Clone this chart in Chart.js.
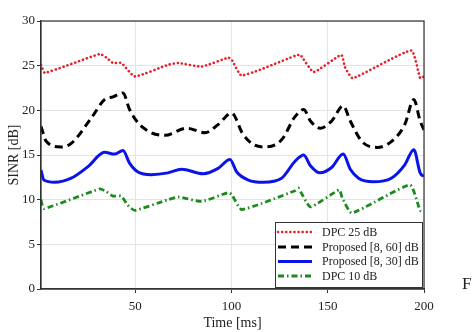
<!DOCTYPE html>
<html>
<head>
<meta charset="utf-8">
<script src="https://cdn.jsdelivr.net/npm/chart.js@4.4.1/dist/chart.umd.min.js"></script>
<style>
  html, body { margin: 0; padding: 0; background: #fff; }
  #wrap { width: 474px; height: 332px; position: relative; }
</style>
</head>
<body>
<div id="wrap"><canvas id="c" width="474" height="332"></canvas></div>
<script>
// --- données ---
const xTicks = [50, 100, 150, 200];
const yTicks = [0, 5, 10, 15, 20, 25, 30];

const labels = ['DPC 25 dB', 'Proposed [8, 60] dB', 'Proposed [8, 30] dB', 'DPC 10 dB'];

// DPC 25 dB
const dpc25T = [1, 3, 31.5, 35, 38.4, 42.7, 49.7, 67, 72.3, 84.5, 98.3, 100, 105.3, 133, 135.7, 142.7, 157, 159, 163, 193.4, 198, 200];
const dpc25V = [25.1, 24.2, 26.3, 25.9, 25.3, 25.3, 23.8, 25.1, 25.3, 24.9, 25.9, 25.7, 23.9, 26.1, 26.2, 24.3, 26.2, 24.8, 23.6, 26.7, 23.6, 23.8];

// Proposed [8, 60] dB
const p60T = [1, 3.8, 11.5, 16.7, 27, 34, 38.4, 43.6, 47, 51.4, 58.3, 65.4, 76.7, 86.2, 93, 100, 106, 112, 117.4, 126, 133, 137.5, 141, 146, 152, 158, 161.7, 167.8, 175.6, 183, 190, 194.7, 198, 200];
const p60V = [18.2, 16.5, 15.9, 16.3, 19.1, 21.2, 21.5, 21.95, 20.1, 18.6, 17.5, 17.2, 18.0, 17.5, 18.4, 19.7, 17.3, 16.1, 15.9, 16.7, 19.3, 20.1, 18.8, 18.0, 18.8, 20.5, 18.8, 16.5, 15.85, 16.5, 18.4, 21.2, 18.8, 17.8];

// Proposed [8, 30] dB
const p30T = [1, 2.5, 8, 16.7, 25.4, 34, 39.3, 43.6, 47, 51.4, 58.3, 67, 74, 85.3, 93, 99.2, 102.7, 108.7, 116.5, 126, 133, 137.5, 141, 146, 152, 158, 161.7, 166, 173.5, 183, 190, 194.7, 198, 200];
const p30V = [13.3, 12.2, 11.95, 12.4, 13.7, 15.3, 15.1, 15.5, 14.1, 13.1, 12.8, 13.0, 13.4, 12.9, 13.5, 14.5, 13.1, 12.2, 11.95, 12.4, 14.3, 15.0, 13.8, 13.0, 13.6, 15.1, 13.4, 12.4, 12.0, 12.4, 13.9, 15.6, 13.0, 12.6];

// DPC 10 dB
const dpc10T = [1, 2.5, 31.5, 35, 38.4, 42.7, 46, 49.7, 67, 72.3, 84.5, 98.3, 100, 105.3, 133, 134.7, 141, 156, 157.5, 162.5, 192.7, 198, 200];
const dpc10V = [10.0, 9.0, 11.2, 10.9, 10.4, 10.4, 9.4, 8.8, 10.0, 10.3, 9.8, 10.8, 10.6, 8.9, 11.0, 11.3, 9.2, 11.1, 10.2, 8.5, 11.65, 8.8, 8.65];

const pts = (t, v) => t.map((x, i) => ({ x, y: v[i] }));

const serif = '"Liberation Serif", "DejaVu Serif", serif';

// Cadre complet + légende maison + lettre coupée à droite
const decorPlugin = {
  id: 'decor',
  afterDraw(chart) {
    const { ctx, chartArea: a } = chart;
    ctx.save();
    ctx.strokeStyle = '#333';
    ctx.lineWidth = 1.2;
    ctx.strokeRect(a.left, a.top, a.right - a.left, a.bottom - a.top);

    // légende
    const bx = 275.5, by = 222.5, bw = 147, bh = 65;
    ctx.fillStyle = '#fff';
    ctx.fillRect(bx, by, bw, bh);
    ctx.strokeStyle = '#333';
    ctx.lineWidth = 1;
    ctx.strokeRect(bx, by, bw, bh);
    const rows = [232, 247, 261.5, 276];
    chart.data.datasets.forEach((ds, i) => {
      const y = rows[i];
      ctx.beginPath();
      ctx.strokeStyle = ds.borderColor;
      ctx.lineWidth = ds.borderWidth;
      ctx.lineCap = ds.borderCapStyle || 'butt';
      ctx.setLineDash(ds.borderDash || []);
      ctx.moveTo(278, y);
      ctx.lineTo(312, y);
      ctx.stroke();
      ctx.setLineDash([]);
      ctx.fillStyle = '#222';
      ctx.font = '12px ' + serif;
      ctx.textBaseline = 'middle';
      ctx.textAlign = 'left';
      ctx.fillText(ds.label, 322, y + 0.5);
    });

    ctx.fillStyle = '#222';
    ctx.font = '17px ' + serif;
    ctx.textBaseline = 'middle';
    ctx.fillText('F', 462, 285);
    ctx.restore();
  }
};

new Chart(document.getElementById('c'), {
  type: 'line',
  data: {
    datasets: [
      {
        label: labels[0],
        data: pts(dpc25T, dpc25V),
        borderColor: '#e8202a',
        borderWidth: 2.6,
        borderDash: [0.1, 4],
        borderCapStyle: 'round',
        tension: 0.15,
        pointRadius: 0
      },
      {
        label: labels[1],
        data: pts(p60T, p60V),
        borderColor: '#000000',
        borderWidth: 3,
        borderDash: [8, 5],
        cubicInterpolationMode: 'monotone',
        pointRadius: 0
      },
      {
        label: labels[2],
        data: pts(p30T, p30V),
        borderColor: '#0a14e6',
        borderWidth: 3,
        cubicInterpolationMode: 'monotone',
        pointRadius: 0
      },
      {
        label: labels[3],
        data: pts(dpc10T, dpc10V),
        borderColor: '#1c8a1c',
        borderWidth: 2.8,
        borderDash: [6, 3, 1.5, 3],
        tension: 0.15,
        pointRadius: 0
      }
    ]
  },
  options: {
    responsive: false,
    animation: false,
    layout: { padding: { top: 21, right: 50, left: 6, bottom: 0 } },
    plugins: { legend: { display: false }, tooltip: { enabled: false } },
    scales: {
      x: {
        type: 'linear',
        min: 1,
        max: 200,
        afterBuildTicks: s => { s.ticks = xTicks.map(v => ({ value: v })); },
        afterFit: s => { s.height = 43; },
        grid: { color: '#e4e4e4', lineWidth: 1, tickLength: 4, tickColor: '#333' },
        border: { color: '#333', width: 1.2 },
        ticks: { color: '#222', font: { family: serif, size: 13 }, padding: 6 },
        title: { display: true, text: 'Time [ms]', color: '#222', font: { family: serif, size: 14 }, padding: { top: 1, bottom: 0 } }
      },
      y: {
        min: 0,
        max: 30,
        afterBuildTicks: s => { s.ticks = yTicks.map(v => ({ value: v })); },
        afterFit: s => { s.width = 35; },
        grid: { color: '#e4e4e4', lineWidth: 1, tickLength: 4, tickColor: '#333' },
        border: { color: '#333', width: 1.2 },
        ticks: { color: '#222', font: { family: serif, size: 13 }, padding: 2 },
        title: { display: true, text: 'SINR [dB]', color: '#222', font: { family: serif, size: 14 }, padding: { top: 0, bottom: 2 } }
      }
    }
  },
  plugins: [decorPlugin]
});
</script>
</body>
</html>
